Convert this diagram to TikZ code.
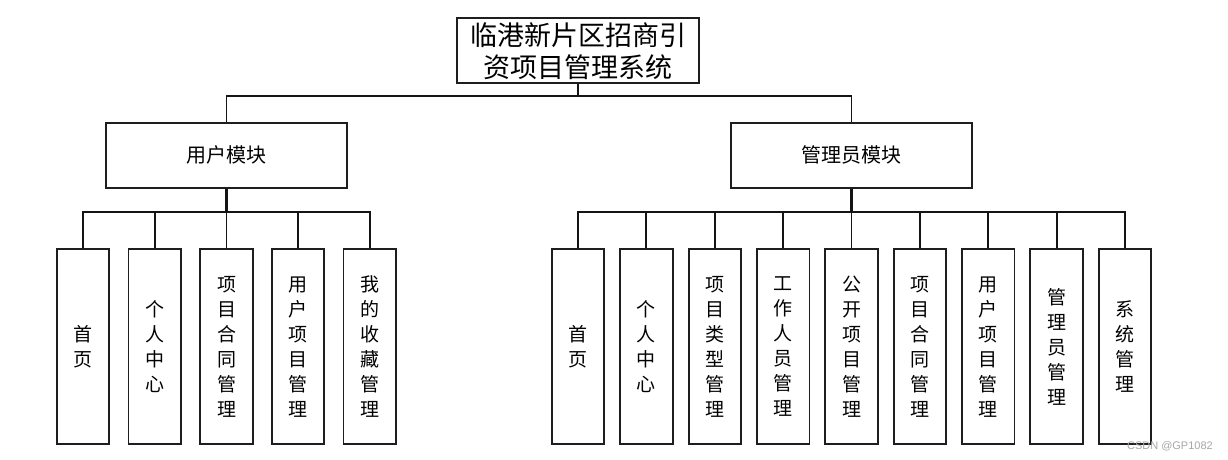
\documentclass[tikz,border=0pt]{standalone}
\usepackage{fontspec}
\usepackage{tikz}
\setmainfont{Noto Sans CJK SC}
\newfontfamily\wmfont{Liberation Sans}

\tikzset{
  box/.style={draw={rgb,255:red,30;green,30;blue,30},line width=1.8pt,fill=white,inner sep=0pt,align=center},
  leafbox/.style={box,minimum width=52.6,minimum height=195,font=\fontsize{19}{25}\selectfont},
  link/.style={draw={rgb,255:red,20;green,20;blue,20},line width=1.9pt},
  stem/.style={link,line width=3pt}
}

\begin{document}
\begin{tikzpicture}[x=1pt,y=1pt,yscale=-1,xscale=1]
\useasboundingbox (0,0) rectangle (1228,460);

% Boxes
\node [box,minimum width=241.4,minimum height=65,font=\fontsize{27}{32}\selectfont] (sys) at (578,50.8) {临港新片区招商引\\资项目管理系统};
\node [box,minimum width=241.6,minimum height=65,font=\fontsize{20}{24}\selectfont] (user) at (226.5,155.2) {用户模块};
\node [box,minimum width=241.6,minimum height=65,font=\fontsize{20}{24}\selectfont] (admin) at (851.5,155.2) {管理员模块};

% user leaves
\node [leafbox] (u1) at (83,346.8) {首\\页};
\node [leafbox] (u2) at (154.7,346.8) {个\\人\\中\\心};
\node [leafbox] (u3) at (226.5,346.8) {项\\目\\合\\同\\管\\理};
\node [leafbox] (u4) at (298,346.8) {用\\户\\项\\目\\管\\理};
\node [leafbox] (u5) at (369.7,346.8) {我\\的\\收\\藏\\管\\理};

% admin leaves
\node [leafbox] (a1) at (578,346.8) {首\\页};
\node [leafbox] (a2) at (646.4,346.8) {个\\人\\中\\心};
\node [leafbox] (a3) at (714.9,346.8) {项\\目\\类\\型\\管\\理};
\node [leafbox] (a4) at (783.2,346.8) {工\\作\\人\\员\\管\\理};
\node [leafbox] (a5) at (851.5,346.8) {公\\开\\项\\目\\管\\理};
\node [leafbox] (a6) at (919.9,346.8) {项\\目\\合\\同\\管\\理};
\node [leafbox] (a7) at (988.2,346.8) {用\\户\\项\\目\\管\\理};
\node [leafbox] (a8) at (1056.6,346.8) {管\\理\\员\\管\\理};
\node [leafbox] (a9) at (1125,346.8) {系\\统\\管\\理};

% bus points
\coordinate (topbus) at (578,95.7);
\coordinate (ubus) at (226.5,212);
\coordinate (abus) at (851.5,212);

% Straight Lines
\draw [link] (sys.south) -- (topbus);
\draw [link] (user.north) |- (topbus) -| (admin.north);
\draw [stem] (user.south) -- (ubus);
\draw [stem] (admin.south) -- (abus);
\draw [link] (ubus) -| (u1.north);
\draw [link] (ubus) -| (u2.north);
\draw [link] (ubus) -- (u3.north);
\draw [link] (ubus) -| (u4.north);
\draw [link] (ubus) -| (u5.north);
\draw [link] (abus) -| (a1.north);
\draw [link] (abus) -| (a2.north);
\draw [link] (abus) -| (a3.north);
\draw [link] (abus) -| (a4.north);
\draw [link] (abus) -- (a5.north);
\draw [link] (abus) -| (a6.north);
\draw [link] (abus) -| (a7.north);
\draw [link] (abus) -| (a8.north);
\draw [link] (abus) -| (a9.north);

% Text Node
\node [anchor=east,inner sep=0pt,text=gray!70,font=\wmfont\fontsize{11}{12}\selectfont] (wm) at (1213,446) {CSDN @GP1082};

\end{tikzpicture}
\end{document}
